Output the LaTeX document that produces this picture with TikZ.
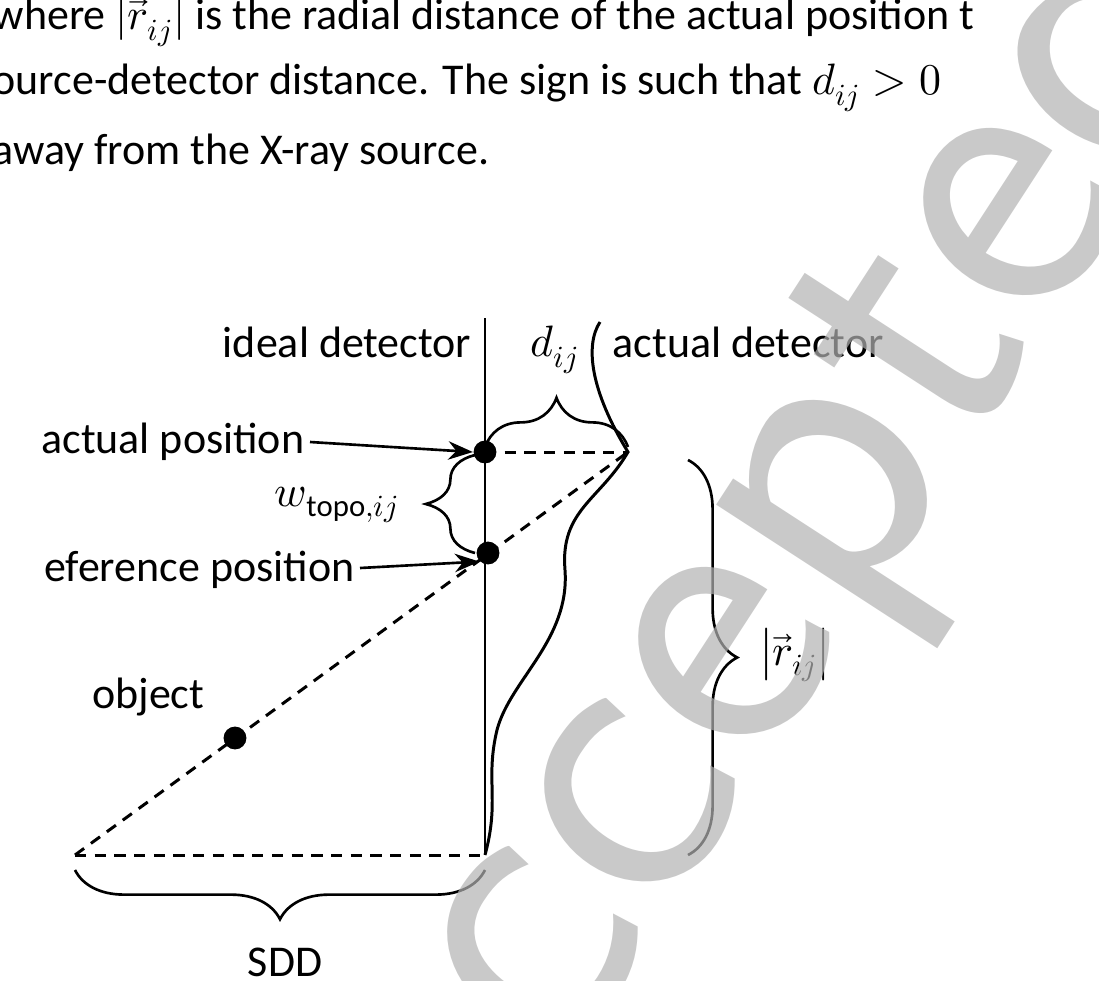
\documentclass[tikz,border=0pt]{standalone}
\usepackage{fontspec}
\setmainfont{Carlito}
\usepackage{unicode-math}
\setmathfont{Latin Modern Math}
\usetikzlibrary{decorations.pathreplacing,arrows.meta}
\begin{document}
\begin{tikzpicture}[x=0.01cm,y=-0.01cm,
  lbl/.style={font=\fontsize{12.5}{14}\selectfont,inner sep=0pt},
  dash line/.style={dash pattern=on 3.2pt off 2.4pt,line width=0.85pt},
  brc/.style={decorate,decoration={brace,amplitude=14pt},line width=0.75pt},
  dot/.style={circle,fill=black,inner sep=0pt,minimum size=6.5pt},
  arr/.style={-{Stealth[length=7pt]},line width=0.75pt}]
\useasboundingbox (0,0) rectangle (1099,981);
% top text
\node[lbl,anchor=west] (t1) at (-8,22) {where $|\vec r_{ij}|$ is the radial distance of the actual position t};
\node[lbl,anchor=west] (t2) at (-8,88) {ource-detector distance. The sign is such that $d_{ij}>0$};
\node[lbl,anchor=west] (t3) at (-8,153) {away from the X-ray source.};
% points
\coordinate (ap) at (485,452);
\coordinate (bot) at (485,855);
\coordinate (src) at (75,855);
\coordinate (ad) at (628,452);
\coordinate (ltop) at (485,318);
\node[dot] (apd) at (485,452) {};
\node[dot] (rpd) at (488,553) {};
\node[dot] (obd) at (235,738) {};
\draw[line width=0.85pt] (ltop) -- (bot);
\draw[dash line] (ap) -- (ad);
\draw[dash line] (src) -- (bot);
\draw[dash line] (src) -- (ad);
% actual detector
\draw[line width=0.85pt] (600,322) .. controls (585,345) and (590,390) .. (ad)
  .. controls (600,500) and (560,510) .. (565,570)
  .. controls (570,640) and (510,680) .. (497,730)
  .. controls (485,780) and (500,800) .. (bot);
% braces
\draw[brc] (485,447) -- (628,447);
\draw[brc] (475,553) -- (475,455);
\draw[brc] (688,460) -- (688,855);
\draw[brc] (485,870) -- (75,870);
% labels
\node[lbl,anchor=east] (idl) at (472,342) {ideal detector};
\node[lbl,anchor=west] (acl) at (612,342) {actual detector};
\node[lbl] (dl) at (555,350) {$d_{ij}$};
\node[lbl,anchor=east] (wl) at (400,505) {$w_{\mathrm{topo},ij}$};
\node[lbl] (rl) at (795,655) {$\left|\vec r_{ij}\right|$};
\node[lbl] (sdd) at (285,962) {SDD};
\node[lbl,anchor=east] (apl) at (305,442) {actual position};
\node[lbl,anchor=east] (rpl) at (355,570) {eference position};
\node[lbl,anchor=east] (obl) at (205,697) {object};
\draw[arr] (apl.east) ++(5,0) -- (apd.west);
\draw[arr] (rpl.east) ++(5,-2) -- (rpd.south west);
% watermark
\node[font=\sffamily\fontsize{120}{120}\selectfont,text=gray!60,opacity=0.7,rotate=57,anchor=west] (wm) at (330,1240) {Accepted M};
\end{tikzpicture}
\end{document}
